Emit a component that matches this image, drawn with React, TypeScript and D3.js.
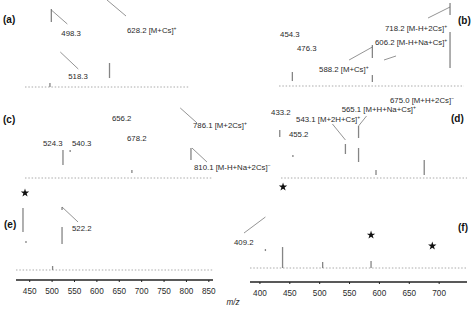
import React from 'react';
import * as d3 from 'd3';

// ---------- DATA ----------
const leftTicks = [450, 500, 550, 600, 650, 700, 750, 800, 850];
const rightTicks = [400, 450, 500, 550, 600, 650, 700];

// peak segments visible in the scan: [m/z, low intensity, high intensity] (relative %)
const peaksA = [[498.3, 74.7, 89.7], [495.2, 0, 4.6], [628.2, 10.3, 27.6]];
const peaksB = [[454.3, 5.7, 16.1], [588.2, 32.2, 47.1], [588.2, 4.6, 12.6], [718.2, 81.6, 95.4], [718.2, 20.7, 62.1]];
const peaksC = [[524.3, 14.9, 32.2], [540.3, 29.9, 32.2], [678.2, 5.7, 9.2], [810.1, 20.7, 34.5]];
const peaksD = [[433.2, 47.1, 55.2], [455.2, 24.1, 26.4], [543.1, 27.6, 39.1], [565.1, 46, 59.8], [565.1, 18.4, 34.5], [675.0, 3.4, 20.7], [594.3, 3.4, 9.2]];
const peaksE = [[435.0, 43.7, 71.3], [441.7, 31, 33.3], [522.2, 69, 72.4], [522.2, 29.9, 49.4], [501.1, 0, 4.6]];
const peaksF = [[409.2, 19.5, 21.8], [437.9, 0, 24.1], [505, 0, 6.9], [586, 0, 8]];

// peak annotations: text, superscript charge, m/z, intensity of anchor
const labelsA = [
  { text: '498.3', sup: '', mz: 498.3, v: 88.5 },
  { text: '518.3', sup: '', mz: 518.3, v: 40.2 },
  { text: '628.2 [M+Cs]', sup: '+', mz: 628.2, v: 100 },
];
const labelsB = [
  { text: '454.3', sup: '', mz: 454.3, v: 16.1 },
  { text: '476.3', sup: '', mz: 476.3, v: 0 },
  { text: '588.2 [M+Cs]', sup: '+', mz: 588.2, v: 44.8 },
  { text: '606.2 [M-H+Na+Cs]', sup: '+', mz: 606.2, v: 29.9 },
  { text: '718.2 [M-H+2Cs]', sup: '+', mz: 718.2, v: 90.8 },
];
const labelsC = [
  { text: '524.3', sup: '', mz: 524.3, v: 32.2 },
  { text: '540.3', sup: '', mz: 540.3, v: 32.2 },
  { text: '656.2', sup: '', mz: 656.2, v: 0 },
  { text: '678.2', sup: '', mz: 678.2, v: 9.2 },
  { text: '786.1 [M+2Cs]', sup: '+', mz: 786.1, v: 80.5 },
  { text: '810.1 [M-H+Na+2Cs]', sup: '\u2212', mz: 810.1, v: 34.5 },
];
const labelsD = [
  { text: '433.2', sup: '', mz: 433.2, v: 55.2 },
  { text: '455.2', sup: '', mz: 455.2, v: 26.4 },
  { text: '543.1 [M+2H+Cs]', sup: '+', mz: 543.1, v: 43.7 },
  { text: '565.1 [M+H+Na+Cs]', sup: '+', mz: 565.1, v: 59.8 },
  { text: '675.0 [M+H+2Cs]', sup: '\u2212', mz: 675.0, v: 20.7 },
];
const labelsE = [{ text: '522.2', sup: '', mz: 522.2, v: 72.4 }];
const labelsF = [{ text: '409.2', sup: '', mz: 409.2, v: 58.6 }];

// starred (impurity) signals: [m/z, intensity]
const starsC = [[439.5, -17.2]];
const starsD = [[438.7, -10.3]];
const starsF = [[586, 37.9], [688.5, 25.3]];

// noise baseline extent [m/z start, m/z end]
const noiseA = [439.5, 807.9];
const noiseB = [432, 741.6];
const noiseC = [439.5, 859];
const noiseD = [435.3, 746.6];
const noiseE = [419.4, 859];
const noiseF = [383.4, 746.6];

// ---------- LAYOUT ----------
const W = 474, H = 310;
const xLeft = d3.scaleLinear().domain([419.4, 859.3]).range([16, 213]);
const xRight = d3.scaleLinear().domain([383.4, 746.6]).range([250, 467]);

type Off = { tx: number; ty: number; ld?: number[] };
const layoutA: Off[] = [
  { tx: 10, ty: 26, ld: [0, 0, 16, 14] },
  { tx: 8, ty: 27, ld: [0, 0, 18, 17] },
  { tx: 17.5, ty: 33, ld: [-2.5, 0, 16.5, 16] },
];
const layoutB: Off[] = [
  { tx: -12.3, ty: -35 },
  { tx: -8.5, ty: -35 },
  { tx: -53.3, ty: 25, ld: [0, 0, -23.3, 13] },
  { tx: -8.1, ty: -15, ld: [0.9, 0, 12.9, -4] },
  { tx: -65, ty: 24, ld: [0, 0, -22, 11] },
];
const layoutC: Off[] = [
  { tx: -20, ty: -4 },
  { tx: 1.8, ty: -4 },
  { tx: -10.1, ty: -57 },
  { tx: -4.9, ty: -29 },
  { tx: 12.8, ty: 20, ld: [0, 0, 16.8, 15] },
  { tx: 3, ty: 22, ld: [1, 0, 16, 14] },
];
const layoutD: Off[] = [
  { tx: -8.7, ty: -15 },
  { tx: -4, ty: -18 },
  { tx: -49.3, ty: -18, ld: [0, 0, -13, -16] },
  { tx: -16.9, ty: -14, ld: [0, 0, 8, -10] },
  { tx: -34.2, ty: -57 },
];
const layoutE: Off[] = [{ tx: 10, ty: 24, ld: [0, 0, 16, 15] }];
const layoutF: Off[] = [{ tx: -31.4, ty: 28, ld: [0, 0, -21.4, 16] }];

const panels = [
  { id: '(a)', x: xLeft, base: 87, px: 3, py: 23, peaks: peaksA, labels: labelsA, lay: layoutA, stars: [], noise: noiseA },
  { id: '(b)', x: xRight, base: 86, px: 458, py: 24, peaks: peaksB, labels: labelsB, lay: layoutB, stars: [], noise: noiseB },
  { id: '(c)', x: xLeft, base: 178, px: 3, py: 123, peaks: peaksC, labels: labelsC, lay: layoutC, stars: starsC, noise: noiseC },
  { id: '(d)', x: xRight, base: 178, px: 451, py: 122, peaks: peaksD, labels: labelsD, lay: layoutD, stars: starsD, noise: noiseD },
  { id: '(e)', x: xLeft, base: 270, px: 4, py: 228, peaks: peaksE, labels: labelsE, lay: layoutE, stars: [], noise: noiseE },
  { id: '(f)', x: xRight, base: 268, px: 458, py: 231, peaks: peaksF, labels: labelsF, lay: layoutF, stars: starsF, noise: noiseF },
];

const FONT = '"Liberation Sans", Arial, sans-serif';
const TXT = '#2a2a2a';
const starPath = d3.symbol(d3.symbolStar).size(22)() as string;

function Panel({ p }: { p: any }) {
  const y = d3.scaleLinear().domain([0, 100]).range([p.base, p.base - 87]);
  const x = p.x;
  return (
    <g>
      <line x1={x(p.noise[0])} x2={x(p.noise[1])} y1={y(0)} y2={y(0)} stroke="#aaaaaa" strokeWidth={1} strokeDasharray="1.5 1.8" />
      {p.peaks.map((d: number[], i: number) => (
        <line key={'p' + i} x1={x(d[0])} x2={x(d[0])} y1={y(d[1])} y2={y(d[2])} stroke="#858585" strokeWidth={1.3} />
      ))}
      {p.labels.map((l: any, i: number) => {
        const o: Off = p.lay[i];
        const ax = x(l.mz), ay = y(l.v);
        return (
          <g key={'l' + i}>
            {o.ld && (
              <line x1={ax + o.ld[0]} y1={ay + o.ld[1]} x2={ax + o.ld[2]} y2={ay + o.ld[3]} stroke="#666" strokeWidth={0.7} />
            )}
            <text x={ax + o.tx} y={ay + o.ty} fontSize={7.8} fontFamily={FONT} fill={TXT}>
              {l.text}
              {l.sup && <tspan dy={-3.2} fontSize={5}>{l.sup}</tspan>}
            </text>
          </g>
        );
      })}
      {p.stars.map((s: number[], i: number) => (
        <path key={'s' + i} d={starPath} transform={`translate(${x(s[0])},${y(s[1])})`} fill="#111" />
      ))}
      <text x={p.px} y={p.py} fontSize={10} fontWeight="bold" fontFamily={FONT} fill="#111">{p.id}</text>
    </g>
  );
}

function Axis({ x, ticks, y0 }: { x: any; ticks: number[]; y0: number }) {
  const [r0, r1] = x.range();
  return (
    <g>
      <line x1={r0} x2={r1} y1={y0} y2={y0} stroke="#222" strokeWidth={1.4} />
      {ticks.map((t) => (
        <g key={t}>
          <line x1={x(t)} x2={x(t)} y1={y0} y2={y0 + 2} stroke="#222" strokeWidth={1} />
          <text x={x(t)} y={y0 + 14} textAnchor="middle" fontSize={8.2} fontFamily={FONT} fill={TXT}>{t}</text>
        </g>
      ))}
    </g>
  );
}

export default function App() {
  return (
    <svg width={W} height={H} style={{ position: 'absolute', left: 0, top: 0, background: '#fff' }}>
      <rect width={W} height={H} fill="#fff" />
      {panels.map((p) => <Panel key={p.id} p={p} />)}
      <Axis x={xLeft} ticks={leftTicks} y0={280} />
      <Axis x={xRight} ticks={rightTicks} y0={282} />
      <text x={233} y={305} textAnchor="middle" fontSize={8.2} fontStyle="italic" fontFamily={FONT} fill={TXT}>m/z</text>
    </svg>
  );
}
